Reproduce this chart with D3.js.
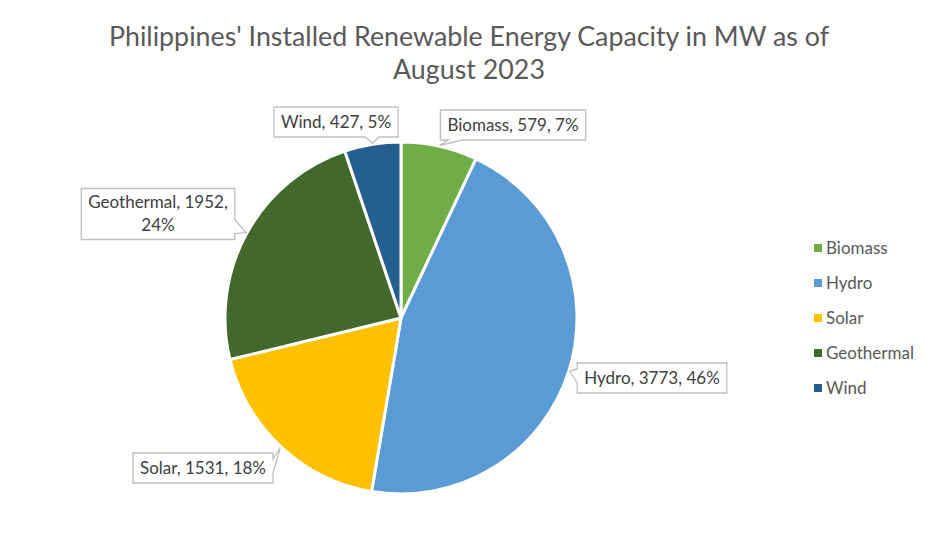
<!DOCTYPE html>
<html>
<head>
<meta charset="utf-8">
<script src="https://cdn.jsdelivr.net/npm/d3@7"></script>
<style>
  body { margin: 0; background: #fff; }
  text { font-family: Lato, "Open Sans", sans-serif; }
</style>
</head>
<body>
<svg id="chart"></svg>
<script>
const sources = ['Biomass', 'Hydro', 'Solar', 'Geothermal', 'Wind']
const capacityMW = [579, 3773, 1531, 1952, 427]
const shareLabels = ['7%', '46%', '18%', '24%', '5%']
const colors = ['#70AD47', '#5B9BD5', '#FFC000', '#43682B', '#255E91']
const titleLines = ["Philippines' Installed Renewable Energy Capacity in MW as of", 'August 2023']

const width = 938
const height = 547
const cx = 401, cy = 318, radius = 176

// where Excel put each data label box (centre, relative to pie centre)
const labelOffsets = [[112, -193], [251, 60], [-198, 150], [-243, -104], [-65, -196]]
// labels that Excel wrapped onto two lines
const wrapAfter = { Geothermal: 2 }

const data = sources.map((s, i) => ({ name: s, value: capacityMW[i], share: shareLabels[i] }))

const color = d3.scaleOrdinal().domain(sources).range(colors)

const svg = d3.select('#chart')
    .attr('width', width)
    .attr('height', height)

// title
svg.append('g')
    .selectAll('text')
    .data(titleLines)
    .join('text')
    .attr('x', 469)
    .attr('y', (d, i) => 46 + i * 33)
    .attr('text-anchor', 'middle')
    .attr('font-size', 26.8)
    .attr('fill', '#595959')
    .text(d => d)

const pie = d3.pie().sort(null).value(d => d.value)
const arc = d3.arc().innerRadius(0).outerRadius(radius)
const arcs = pie(data)

const g = svg.append('g').attr('transform', `translate(${cx},${cy})`)

g.selectAll('path')
    .data(arcs)
    .join('path')
    .attr('d', arc)
    .attr('fill', d => color(d.data.name))
    .attr('stroke', '#fff')
    .attr('stroke-width', 3)
    .attr('stroke-linejoin', 'round')

// callout boxes
const fontSize = 17
const lineH = 23
const padX = 7

const labels = g.append('g')

arcs.forEach((a, i) => {
    const d = a.data
    const full = `${d.name}, ${d.value}, ${d.share}`
    let lines = [full]
    if (wrapAfter[d.name]) {
        const parts = full.split(' ')
        const k = wrapAfter[d.name]
        lines = [parts.slice(0, k).join(' '), parts.slice(k).join(' ')]
    }

    const lg = labels.append('g')
    const t = lg.append('text')
        .attr('font-size', fontSize)
        .attr('fill', '#404040')
        .attr('text-anchor', 'middle')
    lines.forEach((l, j) => {
        t.append('tspan')
            .attr('x', labelOffsets[i][0])
            .attr('y', labelOffsets[i][1] + (j - (lines.length - 1) / 2) * lineH + fontSize * 0.35)
            .text(l)
    })
    const tw = d3.max(t.selectAll('tspan').nodes(), n => n.getComputedTextLength())
    const bw = tw + padX * 2
    const bh = lines.length === 1 ? 30 : 51
    const x0 = labelOffsets[i][0] - bw / 2, x1 = x0 + bw
    const y0 = labelOffsets[i][1] - bh / 2, y1 = y0 + bh

    // tip of the pointer sits on the arc at the slice middle
    const mid = (a.startAngle + a.endAngle) / 2
    const tx = Math.sin(mid) * (radius + 1)
    const ty = -Math.cos(mid) * (radius + 1)

    // pick the box side facing the tip
    const ox = tx < x0 ? x0 - tx : (tx > x1 ? tx - x1 : 0)
    const oy = ty < y0 ? y0 - ty : (ty > y1 ? ty - y1 : 0)
    let pts
    if (oy >= ox && ty < y0) {
        const bx = Math.max(x0 + 8, Math.min(x1 - 22, tx - 30))
        pts = [[x0, y0], [bx, y0], [tx, ty], [bx + 14, y0], [x1, y0], [x1, y1], [x0, y1]]
    } else if (oy >= ox && ty > y1) {
        const bx = Math.max(x0 + 8, Math.min(x1 - 22, tx - 7))
        pts = [[x0, y0], [x1, y0], [x1, y1], [bx + 14, y1], [tx, ty], [bx, y1], [x0, y1]]
    } else if (tx > x1) {
        const by = Math.max(y0 + 6, Math.min(y1 - 20, ty - 12))
        pts = [[x0, y0], [x1, y0], [x1, by], [tx, ty], [x1, by + 14], [x1, y1], [x0, y1]]
    } else {
        const by = Math.max(y0 + 6, Math.min(y1 - 20, ty - 7))
        pts = [[x0, y0], [x1, y0], [x1, y1], [x0, y1], [x0, by + 14], [tx, ty], [x0, by]]
    }
    lg.insert('path', 'text')
        .attr('d', d3.line()(pts) + 'Z')
        .attr('fill', '#fff')
        .attr('stroke', '#BFBFBF')
        .attr('stroke-width', 1.3)
})

// legend
const legend = svg.append('g')
    .attr('transform', 'translate(814,248)')
    .selectAll('g')
    .data(sources)
    .join('g')
    .attr('transform', (d, i) => `translate(0,${i * 35})`)

legend.append('rect')
    .attr('x', 0)
    .attr('y', -4)
    .attr('width', 8)
    .attr('height', 8)
    .attr('fill', d => color(d))

legend.append('text')
    .attr('x', 12)
    .attr('y', 6)
    .attr('font-size', 17)
    .attr('fill', '#595959')
    .text(d => d)
</script>
</body>
</html>
